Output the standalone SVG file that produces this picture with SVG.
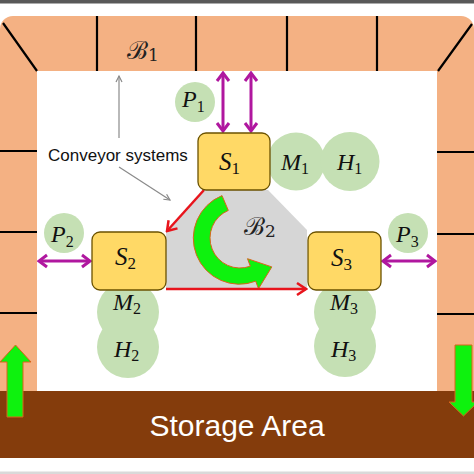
<svg xmlns="http://www.w3.org/2000/svg" width="474" height="474" viewBox="0 0 474 474">
<style>
.wall{stroke:#000;stroke-width:2.2;fill:none}
.circ{fill:#c5e0b4}
.box{fill:#ffd966;stroke:#6b5200;stroke-width:1.3}
.m{font-family:"Liberation Serif","DejaVu Serif",serif;font-style:italic;fill:#111}
.sub{font-style:normal}
.mag{stroke:#b0179f;stroke-width:3;fill:none}
.red{stroke:#e8141c;stroke-width:2.5;fill:none}
.ann{stroke:#8a8a8a;stroke-width:1.2;fill:none}
.garrow{fill:#0ef20e;stroke:#d9641a;stroke-width:1}
.cal{font-family:"DejaVu Serif","Noto Sans",serif;fill:#222}
</style>
<defs>
<marker id="am" viewBox="-10 -8 12 16" refX="0" refY="0" markerWidth="12" markerHeight="16" markerUnits="userSpaceOnUse" orient="auto-start-reverse"><path d="M-8,-6 L0,0 L-8,6" fill="none" stroke="#b0179f" stroke-width="3"/></marker>
<marker id="ar" viewBox="-10 -8 12 16" refX="0" refY="0" markerWidth="12" markerHeight="16" markerUnits="userSpaceOnUse" orient="auto"><path d="M-9,-6 L0,0 L-9,6" fill="none" stroke="#e8141c" stroke-width="2.5"/></marker>
<marker id="ag" viewBox="-8 -5 10 10" refX="0" refY="0" markerWidth="10" markerHeight="10" markerUnits="userSpaceOnUse" orient="auto"><path d="M-6,-3 L0,0 L-6,3" fill="none" stroke="#8a8a8a" stroke-width="1.2"/></marker>
</defs>
<rect x="0" y="0" width="474" height="474" fill="#fff"/>
<rect x="0" y="0" width="474" height="3.5" fill="#595959"/>
<rect x="0" y="471.5" width="474" height="2.5" fill="#d9d9d9"/>
<g id="frame">
<rect x="0" y="16" width="474" height="400" rx="13" fill="#f4b183"/>
<rect x="37" y="71" width="400" height="330" fill="#fff"/>
<path class="wall" d="M97,16V71 M196,16V71 M287,16V71 M377,16V71 M3,23L37,71 M472,24L438,71 M0,151H37 M0,232H37 M0,313H37 M437,152H474 M437,234H474 M437,314H474"/>
<text x="127" y="59" class="cal" font-size="25">ℬ<tspan font-size="17" dy="2">1</tspan></text>
</g>
<g id="storage">
<rect x="0" y="391" width="474" height="67" fill="#843c0c"/>
<text x="237" y="436" text-anchor="middle" font-family="Liberation Sans,Arial,sans-serif" font-size="30" fill="#fff">Storage Area</text>
</g>
<g id="flow-in"><polygon class="garrow" points="7,417 7,362 0,362 15.5,345 31,362 23,362 23,417"/></g>
<g id="flow-out"><polygon class="garrow" points="455,345 472,345 472,402 478,402 463.5,416 449,402 455,402"/></g>
<g id="B2">
<polygon points="204,190 268,190 307,230 307,290 166,290 166,232" fill="#d6d6d6"/>
<text x="244" y="235" class="cal" font-size="25">ℬ<tspan font-size="17" dy="2">2</tspan></text>
<path class="garrow" d="M222,195.6 A46,46 0 0 0 255.7,281.2 L258.5,288.7 L271.8,266.9 L247.5,258.7 L250.3,266.2 A30,30 0 0 1 228.3,210.4 Z"/>
</g>
<g id="connectors">
<line class="mag" x1="223" y1="73" x2="223" y2="131" marker-start="url(#am)" marker-end="url(#am)"/>
<line class="mag" x1="251" y1="73" x2="251" y2="131" marker-start="url(#am)" marker-end="url(#am)"/>
<line class="mag" x1="39" y1="261" x2="90" y2="261" marker-start="url(#am)" marker-end="url(#am)"/>
<line class="mag" x1="383" y1="261" x2="435" y2="261" marker-start="url(#am)" marker-end="url(#am)"/>
<line class="red" x1="204" y1="190" x2="167" y2="231" marker-end="url(#ar)"/>
<line class="red" x1="166" y1="289" x2="306" y2="289" marker-end="url(#ar)"/>
<line class="ann" x1="119" y1="138" x2="119" y2="76" marker-end="url(#ag)"/>
<line class="ann" x1="119" y1="167" x2="170" y2="200" marker-end="url(#ag)"/>
</g>
<g id="label-conveyor"><text x="48" y="161" font-family="Liberation Sans,Arial,sans-serif" font-size="17" fill="#111">Conveyor systems</text></g>
<g id="P1"><circle class="circ" cx="195" cy="102" r="20"/><text x="182" y="107" class="m" font-size="24">P<tspan class="sub" font-size="16" dy="5">1</tspan></text></g>
<g id="P2"><circle class="circ" cx="64" cy="233" r="20"/><text x="51" y="242" class="m" font-size="24">P<tspan class="sub" font-size="16" dy="5">2</tspan></text></g>
<g id="P3"><circle class="circ" cx="408" cy="233" r="20"/><text x="396" y="242" class="m" font-size="24">P<tspan class="sub" font-size="16" dy="5">3</tspan></text></g>
<g id="M1"><circle class="circ" cx="296" cy="161.5" r="29"/><text x="281" y="170" class="m" font-size="24">M<tspan class="sub" font-size="16" dy="4">1</tspan></text></g>
<g id="H1"><circle class="circ" cx="350" cy="161.5" r="29.5"/><text x="337" y="170" class="m" font-size="24">H<tspan class="sub" font-size="16" dy="4">1</tspan></text></g>
<g id="M2"><circle class="circ" cx="128" cy="312" r="31"/><text x="113" y="310" class="m" font-size="24">M<tspan class="sub" font-size="16" dy="4">2</tspan></text></g>
<g id="H2"><circle class="circ" cx="128" cy="347" r="31"/><text x="114" y="357" class="m" font-size="24">H<tspan class="sub" font-size="16" dy="4">2</tspan></text></g>
<g id="M3"><circle class="circ" cx="345" cy="312" r="31"/><text x="330" y="310" class="m" font-size="24">M<tspan class="sub" font-size="16" dy="4">3</tspan></text></g>
<g id="H3"><circle class="circ" cx="345" cy="346" r="31"/><text x="331" y="357" class="m" font-size="24">H<tspan class="sub" font-size="16" dy="4">3</tspan></text></g>
<g id="S1"><rect class="box" x="198" y="133" width="72" height="57" rx="8"/><text x="219" y="170" class="m" font-size="25">S<tspan class="sub" font-size="17" dy="4">1</tspan></text></g>
<g id="S2"><rect class="box" x="92" y="232" width="74" height="58" rx="8"/><text x="115" y="265" class="m" font-size="25">S<tspan class="sub" font-size="17" dy="4">2</tspan></text></g>
<g id="S3"><rect class="box" x="308" y="232" width="73" height="58" rx="8"/><text x="331" y="266" class="m" font-size="25">S<tspan class="sub" font-size="17" dy="4">3</tspan></text></g>
</svg>
